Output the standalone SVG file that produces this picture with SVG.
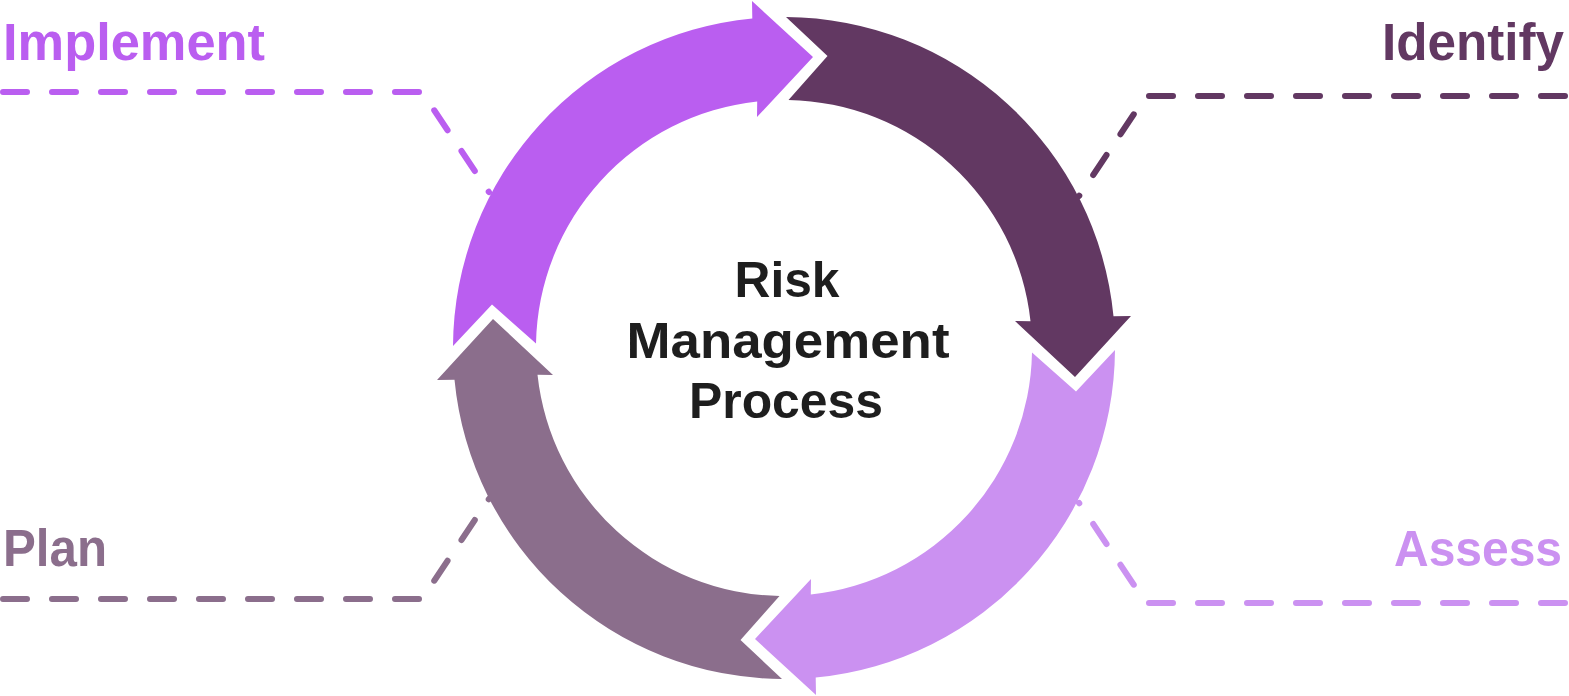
<svg xmlns="http://www.w3.org/2000/svg" width="1569" height="696" viewBox="0 0 1569 696">
  <style>
    .lbl { font-family: "Liberation Sans", Arial, sans-serif; font-weight: bold; font-size: 51px; }
    .ctr { font-family: "Liberation Sans", Arial, sans-serif; font-weight: bold; font-size: 50px; fill: #1e1e1e; text-anchor: middle; }
    .dash { fill: none; stroke-width: 6; stroke-linecap: round; stroke-linejoin: round; stroke-dasharray: 24 25; }
  </style>
  <defs>
    <path id="seg" d="M453,346 A331,331 0 0 1 752.3,18.5 L752,1 L813,57 L757,117 L757.2,101.5 A248,248 0 0 0 536,343.5 L492,304.5 Z"/>
  </defs>
  <rect width="1569" height="696" fill="#ffffff"/>

  <g id="connectors">
    <path class="dash" stroke="#ba5ef0" d="M3,92 L422,92 L489,192.2"/>
    <path class="dash" stroke="#623862" d="M1565,96 L1146,96 L1079,196.2"/>
    <path class="dash" stroke="#cb91f1" d="M1565,603 L1146,603 L1079,502.8"/>
    <path class="dash" stroke="#8b6e8c" d="M3,599 L422,599 L489,498.8"/>
  </g>

  <g id="implement">
    <use href="#seg" fill="#ba5ef0"/>
    <text class="lbl" x="3" y="59.5" fill="#ba5ef0" textLength="262" lengthAdjust="spacingAndGlyphs">Implement</text>
  </g>
  <g id="identify">
    <use href="#seg" fill="#623862" transform="rotate(90 784 348)"/>
    <text class="lbl" x="1382" y="60" fill="#623862" textLength="182" lengthAdjust="spacingAndGlyphs">Identify</text>
  </g>
  <g id="assess">
    <use href="#seg" fill="#cb91f1" transform="rotate(180 784 348)"/>
    <text class="lbl" x="1394" y="566" fill="#cb91f1" style="font-size:49.5px" textLength="168" lengthAdjust="spacingAndGlyphs">Assess</text>
  </g>
  <g id="plan">
    <use href="#seg" fill="#8b6e8c" transform="rotate(270 784 348)"/>
    <text class="lbl" x="3" y="566" fill="#8b6e8c" textLength="104" lengthAdjust="spacingAndGlyphs">Plan</text>
  </g>

  <g id="center">
    <text class="ctr" x="787" y="297" textLength="105" lengthAdjust="spacingAndGlyphs">Risk</text>
    <text class="ctr" x="788" y="358" textLength="323" lengthAdjust="spacingAndGlyphs">Management</text>
    <text class="ctr" x="786" y="418" textLength="194" lengthAdjust="spacingAndGlyphs">Process</text>
  </g>
</svg>
